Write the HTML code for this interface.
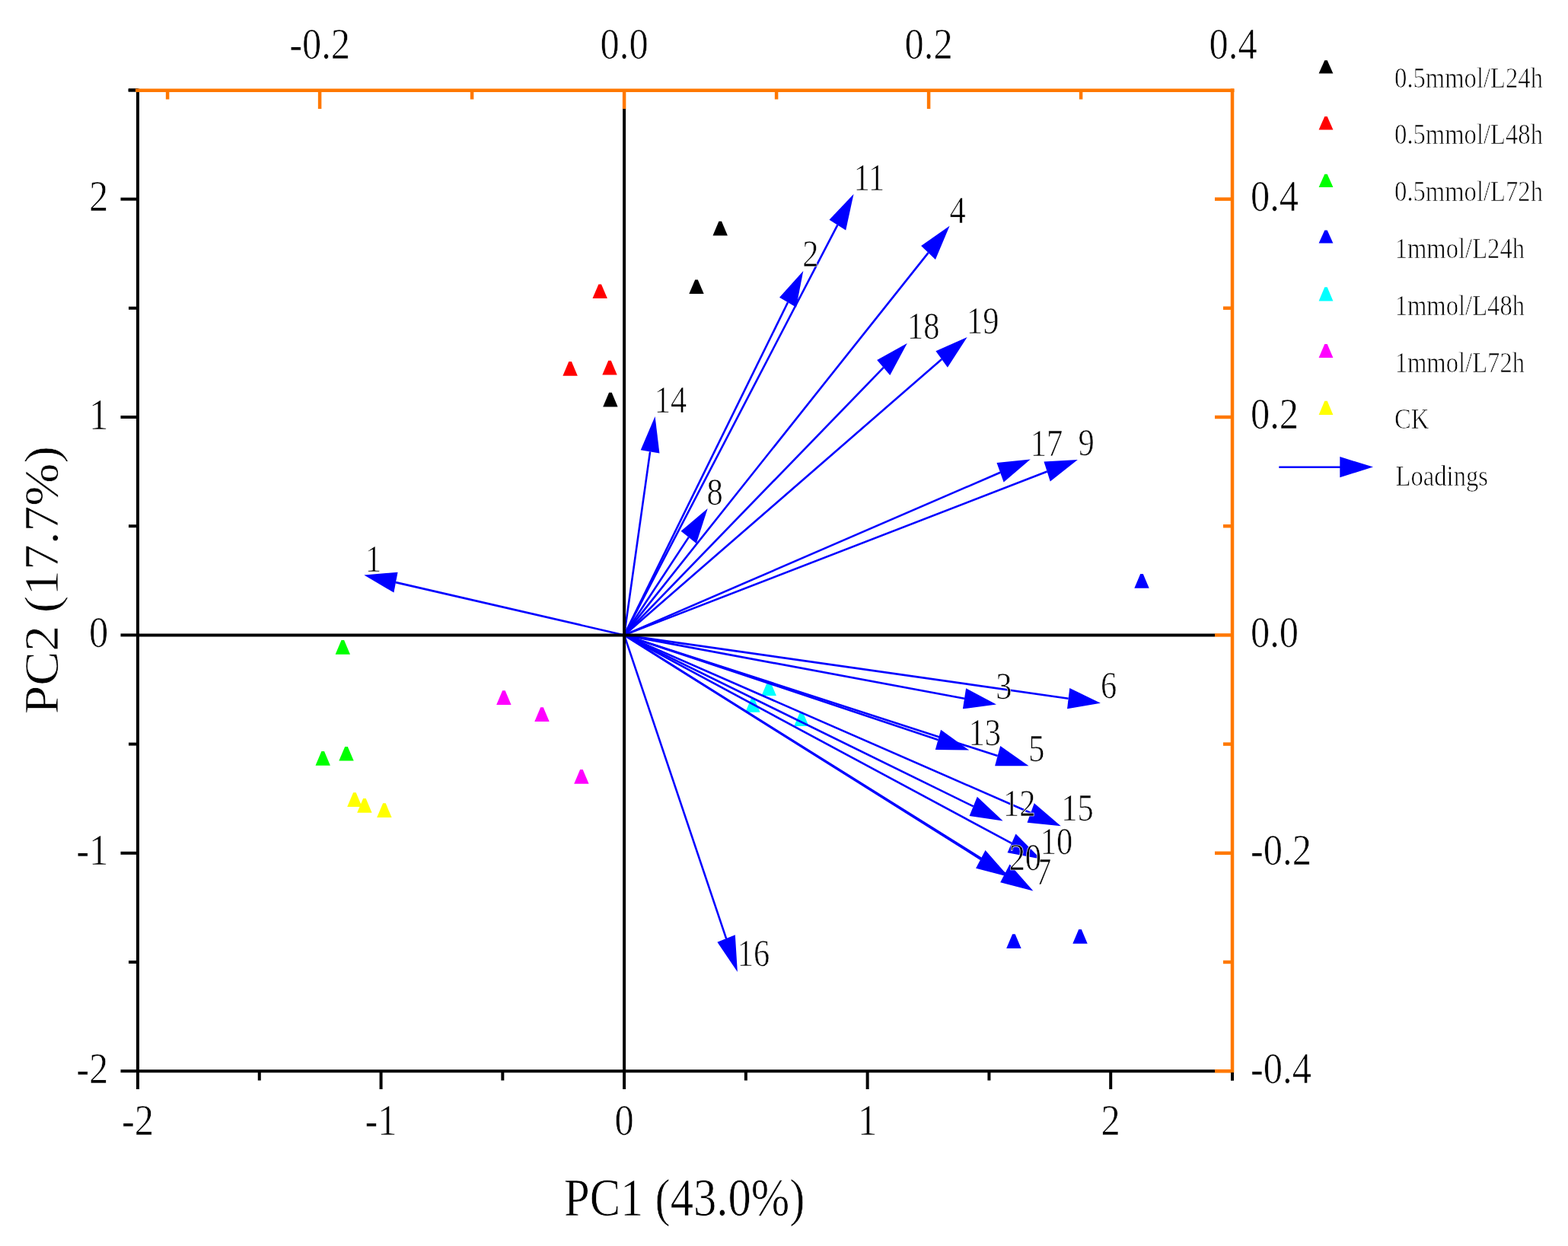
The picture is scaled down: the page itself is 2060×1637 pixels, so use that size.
<!DOCTYPE html>
<html><head><meta charset="utf-8"><title>PCA biplot</title>
<style>
html,body{margin:0;padding:0;background:#fff;}
svg{display:block;}
text{font-family:'Liberation Serif',serif;stroke:#fff;stroke-width:0.7px;paint-order:fill stroke;}
</style></head>
<body>
<svg width="2060" height="1637" viewBox="0 0 2060 1637">
<rect width="2060" height="1637" fill="#fff"/>
<line x1="181" y1="116.5" x2="181" y2="1409.20" stroke="#000" stroke-width="4"/>
<line x1="179" y1="1407.20" x2="1596" y2="1407.20" stroke="#000" stroke-width="4"/>
<line x1="158.5" y1="1407.20" x2="181" y2="1407.20" stroke="#000" stroke-width="4"/>
<line x1="169" y1="1264.00" x2="181" y2="1264.00" stroke="#000" stroke-width="4"/>
<line x1="158.5" y1="1120.80" x2="181" y2="1120.80" stroke="#000" stroke-width="4"/>
<line x1="169" y1="977.60" x2="181" y2="977.60" stroke="#000" stroke-width="4"/>
<line x1="158.5" y1="834.40" x2="181" y2="834.40" stroke="#000" stroke-width="4"/>
<line x1="169" y1="691.20" x2="181" y2="691.20" stroke="#000" stroke-width="4"/>
<line x1="158.5" y1="548.00" x2="181" y2="548.00" stroke="#000" stroke-width="4"/>
<line x1="169" y1="404.80" x2="181" y2="404.80" stroke="#000" stroke-width="4"/>
<line x1="158.5" y1="261.60" x2="181" y2="261.60" stroke="#000" stroke-width="4"/>
<line x1="169" y1="118.40" x2="181" y2="118.40" stroke="#000" stroke-width="4"/>
<line x1="181.00" y1="1407.20" x2="181.00" y2="1431" stroke="#000" stroke-width="4"/>
<line x1="340.77" y1="1407.20" x2="340.77" y2="1419.5" stroke="#000" stroke-width="4"/>
<line x1="500.55" y1="1407.20" x2="500.55" y2="1431" stroke="#000" stroke-width="4"/>
<line x1="660.33" y1="1407.20" x2="660.33" y2="1419.5" stroke="#000" stroke-width="4"/>
<line x1="820.10" y1="1407.20" x2="820.10" y2="1431" stroke="#000" stroke-width="4"/>
<line x1="979.88" y1="1407.20" x2="979.88" y2="1419.5" stroke="#000" stroke-width="4"/>
<line x1="1139.65" y1="1407.20" x2="1139.65" y2="1431" stroke="#000" stroke-width="4"/>
<line x1="1299.43" y1="1407.20" x2="1299.43" y2="1419.5" stroke="#000" stroke-width="4"/>
<line x1="1459.20" y1="1407.20" x2="1459.20" y2="1431" stroke="#000" stroke-width="4"/>
<line x1="1618.97" y1="1407.20" x2="1618.97" y2="1419.5" stroke="#000" stroke-width="4"/>
<line x1="168.5" y1="118.5" x2="181" y2="118.5" stroke="#000" stroke-width="4"/>
<line x1="178" y1="118.7" x2="1621.5" y2="118.7" stroke="#FF7800" stroke-width="4.5"/>
<line x1="1619" y1="116.5" x2="1619" y2="1409" stroke="#FF7800" stroke-width="4.5"/>
<line x1="1596" y1="1407.20" x2="1619" y2="1407.20" stroke="#FF7800" stroke-width="4"/>
<line x1="220.10" y1="118" x2="220.10" y2="130.5" stroke="#FF7800" stroke-width="4.5"/>
<line x1="420.10" y1="118" x2="420.10" y2="143" stroke="#FF7800" stroke-width="4.5"/>
<line x1="620.10" y1="118" x2="620.10" y2="130.5" stroke="#FF7800" stroke-width="4.5"/>
<line x1="820.10" y1="118" x2="820.10" y2="143" stroke="#FF7800" stroke-width="4.5"/>
<line x1="1020.10" y1="118" x2="1020.10" y2="130.5" stroke="#FF7800" stroke-width="4.5"/>
<line x1="1220.10" y1="118" x2="1220.10" y2="143" stroke="#FF7800" stroke-width="4.5"/>
<line x1="1420.10" y1="118" x2="1420.10" y2="130.5" stroke="#FF7800" stroke-width="4.5"/>
<line x1="1596" y1="1407.20" x2="1619" y2="1407.20" stroke="#FF7800" stroke-width="4.5"/>
<line x1="1607" y1="1264.00" x2="1619" y2="1264.00" stroke="#FF7800" stroke-width="4.5"/>
<line x1="1596" y1="1120.80" x2="1619" y2="1120.80" stroke="#FF7800" stroke-width="4.5"/>
<line x1="1607" y1="977.60" x2="1619" y2="977.60" stroke="#FF7800" stroke-width="4.5"/>
<line x1="1596" y1="834.40" x2="1619" y2="834.40" stroke="#FF7800" stroke-width="4.5"/>
<line x1="1607" y1="691.20" x2="1619" y2="691.20" stroke="#FF7800" stroke-width="4.5"/>
<line x1="1596" y1="548.00" x2="1619" y2="548.00" stroke="#FF7800" stroke-width="4.5"/>
<line x1="1607" y1="404.80" x2="1619" y2="404.80" stroke="#FF7800" stroke-width="4.5"/>
<line x1="1596" y1="261.60" x2="1619" y2="261.60" stroke="#FF7800" stroke-width="4.5"/>
<line x1="1619" y1="1409.20" x2="1619" y2="1419.5" stroke="#000" stroke-width="4"/>
<g font-family="'Liberation Serif',serif" fill="#000">
<text transform="translate(181.00,1490.50) scale(0.8700,1)" font-size="58.00" text-anchor="middle">-2</text>
<text transform="translate(500.55,1490.50) scale(0.8700,1)" font-size="58.00" text-anchor="middle">-1</text>
<text transform="translate(820.10,1490.50) scale(0.8700,1)" font-size="58.00" text-anchor="middle">0</text>
<text transform="translate(1139.65,1490.50) scale(0.8700,1)" font-size="58.00" text-anchor="middle">1</text>
<text transform="translate(1459.20,1490.50) scale(0.8700,1)" font-size="58.00" text-anchor="middle">2</text>
<text transform="translate(142.30,1422.70) scale(0.8700,1)" font-size="58.00" text-anchor="end">-2</text>
<text transform="translate(142.30,1136.30) scale(0.8700,1)" font-size="58.00" text-anchor="end">-1</text>
<text transform="translate(142.30,849.90) scale(0.8700,1)" font-size="58.00" text-anchor="end">0</text>
<text transform="translate(142.30,563.50) scale(0.8700,1)" font-size="58.00" text-anchor="end">1</text>
<text transform="translate(142.30,277.10) scale(0.8700,1)" font-size="58.00" text-anchor="end">2</text>
<text transform="translate(420.10,77.30) scale(0.8700,1)" font-size="58.00" text-anchor="middle">-0.2</text>
<text transform="translate(820.10,77.30) scale(0.8700,1)" font-size="58.00" text-anchor="middle">0.0</text>
<text transform="translate(1220.10,77.30) scale(0.8700,1)" font-size="58.00" text-anchor="middle">0.2</text>
<text transform="translate(1620.10,77.30) scale(0.8700,1)" font-size="58.00" text-anchor="middle">0.4</text>
<text transform="translate(1643.00,277.00) scale(0.8700,1)" font-size="58.00" text-anchor="start">0.4</text>
<text transform="translate(1643.00,563.40) scale(0.8700,1)" font-size="58.00" text-anchor="start">0.2</text>
<text transform="translate(1643.00,849.80) scale(0.8700,1)" font-size="58.00" text-anchor="start">0.0</text>
<text transform="translate(1643.00,1136.20) scale(0.8700,1)" font-size="58.00" text-anchor="start">-0.2</text>
<text transform="translate(1643.00,1422.60) scale(0.8700,1)" font-size="58.00" text-anchor="start">-0.4</text>
</g>
<polygon points="936.50,309.50 955.90,309.50 948.00,290.80 944.40,290.80" fill="#000000"/>
<polygon points="905.30,386.10 924.70,386.10 916.80,367.40 913.20,367.40" fill="#000000"/>
<polygon points="792.20,534.40 811.60,534.40 803.70,515.70 800.10,515.70" fill="#000000"/>
<polygon points="778.50,392.10 797.90,392.10 790.00,373.40 786.40,373.40" fill="#FF0000"/>
<polygon points="739.40,493.70 758.80,493.70 750.90,475.00 747.30,475.00" fill="#FF0000"/>
<polygon points="791.30,492.50 810.70,492.50 802.80,473.80 799.20,473.80" fill="#FF0000"/>
<polygon points="440.60,859.80 460.00,859.80 452.10,841.10 448.50,841.10" fill="#00FF00"/>
<polygon points="414.50,1005.70 433.90,1005.70 426.00,987.00 422.40,987.00" fill="#00FF00"/>
<polygon points="445.30,999.60 464.70,999.60 456.80,980.90 453.20,980.90" fill="#00FF00"/>
<polygon points="456.20,1060.00 475.60,1060.00 467.70,1041.30 464.10,1041.30" fill="#FFFF00"/>
<polygon points="469.20,1067.70 488.60,1067.70 480.70,1049.00 477.10,1049.00" fill="#FFFF00"/>
<polygon points="495.20,1074.00 514.60,1074.00 506.70,1055.30 503.10,1055.30" fill="#FFFF00"/>
<polygon points="652.20,926.00 671.60,926.00 663.70,907.30 660.10,907.30" fill="#FF00FF"/>
<polygon points="702.30,947.90 721.70,947.90 713.80,929.20 710.20,929.20" fill="#FF00FF"/>
<polygon points="754.20,1029.80 773.60,1029.80 765.70,1011.10 762.10,1011.10" fill="#FF00FF"/>
<polygon points="1000.50,914.00 1019.90,914.00 1012.00,895.30 1008.40,895.30" fill="#00FFFF"/>
<polygon points="979.20,935.80 998.60,935.80 990.70,917.10 987.10,917.10" fill="#00FFFF"/>
<polygon points="1043.20,954.10 1062.60,954.10 1054.70,935.40 1051.10,935.40" fill="#00FFFF"/>
<polygon points="1490.30,772.80 1509.70,772.80 1501.80,754.10 1498.20,754.10" fill="#0000FF"/>
<polygon points="1322.20,1245.90 1341.60,1245.90 1333.70,1227.20 1330.10,1227.20" fill="#0000FF"/>
<polygon points="1409.30,1239.70 1428.70,1239.70 1420.80,1221.00 1417.20,1221.00" fill="#0000FF"/>
<g stroke="#0000FF" stroke-width="2.6" fill="none">
<line x1="820.1" y1="834.4" x2="519.99" y2="765.12"/>
<line x1="820.1" y1="834.4" x2="1035.04" y2="397.22"/>
<line x1="820.1" y1="834.4" x2="1267.00" y2="917.77"/>
<line x1="820.1" y1="834.4" x2="1219.55" y2="332.07"/>
<line x1="820.1" y1="834.4" x2="1310.63" y2="993.08"/>
<line x1="820.1" y1="834.4" x2="1403.65" y2="917.67"/>
<line x1="820.1" y1="834.4" x2="1320.37" y2="1147.34"/>
<line x1="820.1" y1="834.4" x2="904.72" y2="705.85"/>
<line x1="820.1" y1="834.4" x2="1375.61" y2="619.54"/>
<line x1="820.1" y1="834.4" x2="1329.02" y2="1107.93"/>
<line x1="820.1" y1="834.4" x2="1100.34" y2="295.67"/>
<line x1="820.1" y1="834.4" x2="1278.69" y2="1059.41"/>
<line x1="820.1" y1="834.4" x2="1232.43" y2="971.90"/>
<line x1="820.1" y1="834.4" x2="854.07" y2="593.31"/>
<line x1="820.1" y1="834.4" x2="1354.11" y2="1067.98"/>
<line x1="820.1" y1="834.4" x2="954.12" y2="1233.05"/>
<line x1="820.1" y1="834.4" x2="1314.05" y2="620.75"/>
<line x1="820.1" y1="834.4" x2="1160.73" y2="482.96"/>
<line x1="820.1" y1="834.4" x2="1237.17" y2="471.95"/>
<line x1="820.1" y1="834.4" x2="1288.32" y2="1128.84"/>
</g>
<g fill="#0000FF">
<polygon points="478.30,755.50 522.56,751.67 517.42,778.58"/>
<polygon points="1055.30,356.00 1046.03,403.76 1024.04,390.68"/>
<polygon points="1309.00,925.60 1264.91,931.32 1269.09,904.21"/>
<polygon points="1247.60,296.80 1228.96,341.12 1210.14,323.02"/>
<polygon points="1351.50,1006.30 1307.10,1006.27 1314.16,979.89"/>
<polygon points="1445.90,923.70 1402.05,931.31 1405.26,904.04"/>
<polygon points="1357.40,1170.50 1314.19,1159.29 1326.55,1135.38"/>
<polygon points="929.70,667.90 914.84,713.92 894.59,697.79"/>
<polygon points="1415.80,604.00 1379.76,632.52 1371.47,606.57"/>
<polygon points="1367.30,1128.50 1323.54,1120.28 1334.51,1095.57"/>
<polygon points="1121.50,255.00 1111.19,302.50 1089.49,288.84"/>
<polygon points="1317.60,1078.50 1273.60,1071.97 1283.79,1046.85"/>
<polygon points="1273.20,985.50 1228.81,985.06 1236.06,958.75"/>
<polygon points="860.60,547.00 866.43,595.41 841.72,591.20"/>
<polygon points="1393.70,1085.30 1349.50,1080.76 1358.73,1055.21"/>
<polygon points="968.90,1277.00 942.40,1237.82 965.85,1228.28"/>
<polygon points="1353.70,603.60 1318.63,633.54 1309.48,607.95"/>
<polygon points="1191.80,450.90 1169.28,492.99 1152.18,472.93"/>
<polygon points="1270.60,442.90 1244.92,482.74 1229.42,461.16"/>
<polygon points="1325.30,1152.10 1282.11,1140.78 1294.52,1116.91"/>
</g>
<line x1="820.10" y1="143" x2="820.10" y2="1407.20" stroke="#000" stroke-width="4"/>
<line x1="181" y1="834.40" x2="1596" y2="834.40" stroke="#000" stroke-width="4"/>
<g font-family="'Liberation Serif',serif" fill="#000">
<text transform="translate(479.96,750.50) scale(0.8550,1)" font-size="49.70">1</text>
<text transform="translate(1054.13,350.00) scale(0.8550,1)" font-size="49.70">2</text>
<text transform="translate(1308.16,918.00) scale(0.8550,1)" font-size="49.70">3</text>
<text transform="translate(1247.45,292.50) scale(0.8550,1)" font-size="49.70">4</text>
<text transform="translate(1351.34,1000.10) scale(0.8550,1)" font-size="49.70">5</text>
<text transform="translate(1445.97,917.40) scale(0.8550,1)" font-size="49.70">6</text>
<text transform="translate(1360.00,1162.30) scale(0.8550,1)" font-size="49.70">7</text>
<text transform="translate(928.49,662.60) scale(0.8550,1)" font-size="49.70">8</text>
<text transform="translate(1416.44,598.20) scale(0.8550,1)" font-size="49.70">9</text>
<text transform="translate(1366.86,1121.80) scale(0.8550,1)" font-size="49.70">10</text>
<text transform="translate(1121.46,250.20) scale(0.8550,1)" font-size="49.70">11</text>
<text transform="translate(1318.06,1071.90) scale(0.8550,1)" font-size="49.70">12</text>
<text transform="translate(1272.56,978.60) scale(0.8550,1)" font-size="49.70">13</text>
<text transform="translate(859.86,542.30) scale(0.8550,1)" font-size="49.70">14</text>
<text transform="translate(1394.36,1078.20) scale(0.8550,1)" font-size="49.70">15</text>
<text transform="translate(968.76,1269.00) scale(0.8550,1)" font-size="49.70">16</text>
<text transform="translate(1353.86,598.50) scale(0.8550,1)" font-size="49.70">17</text>
<text transform="translate(1192.06,445.00) scale(0.8550,1)" font-size="49.70">18</text>
<text transform="translate(1270.06,437.50) scale(0.8550,1)" font-size="49.70">19</text>
<text transform="translate(1325.63,1143.00) scale(0.8550,1)" font-size="49.70">20</text>
</g>
<polygon points="1732.60,96.40 1751.40,96.40 1743.70,79.20 1740.30,79.20" fill="#000000"/>
<polygon points="1732.60,170.50 1751.40,170.50 1743.70,153.00 1740.30,153.00" fill="#FF0000"/>
<polygon points="1732.60,245.90 1751.40,245.90 1743.70,228.80 1740.30,228.80" fill="#00FF00"/>
<polygon points="1732.60,319.50 1751.40,319.50 1743.70,302.50 1740.30,302.50" fill="#0000FF"/>
<polygon points="1732.60,395.50 1751.40,395.50 1743.70,377.20 1740.30,377.20" fill="#00FFFF"/>
<polygon points="1732.60,469.90 1751.40,469.90 1743.70,451.90 1740.30,451.90" fill="#FF00FF"/>
<polygon points="1732.60,545.10 1751.40,545.10 1743.70,526.80 1740.30,526.80" fill="#FFFF00"/>
<g font-family="'Liberation Serif',serif" fill="#000">
<text transform="translate(1832.06,114.70) scale(0.8660,1)" font-size="37.70">0.5mmol/L24h</text>
<text transform="translate(1832.06,189.10) scale(0.8660,1)" font-size="37.70">0.5mmol/L48h</text>
<text transform="translate(1832.06,263.90) scale(0.8660,1)" font-size="37.70">0.5mmol/L72h</text>
<text transform="translate(1832.63,338.60) scale(0.8660,1)" font-size="37.70">1mmol/L24h</text>
<text transform="translate(1832.63,413.70) scale(0.8660,1)" font-size="37.70">1mmol/L48h</text>
<text transform="translate(1832.63,488.50) scale(0.8660,1)" font-size="37.70">1mmol/L72h</text>
<text transform="translate(1831.96,563.30) scale(0.8660,1)" font-size="37.70">CK</text>
<text transform="translate(1833.55,638.00) scale(0.8660,1)" font-size="37.70">Loadings</text>
</g>
<line x1="1680.3" y1="613.8" x2="1762" y2="613.8" stroke="#0000FF" stroke-width="2.6"/>
<polygon points="1804,613.6 1760.3,600 1760.3,627.2" fill="#0000FF"/>
<g font-family="'Liberation Serif',serif" fill="#000">
<text transform="translate(740.94,1596.90) scale(0.8744,1)" font-size="69.31">PC1 (43.0%)</text>
<text transform="translate(76.0,938.16) rotate(-90) scale(1,0.9374)" font-size="67.42">PC2 (17.7%)</text>
</g>
</svg>
</body></html>
